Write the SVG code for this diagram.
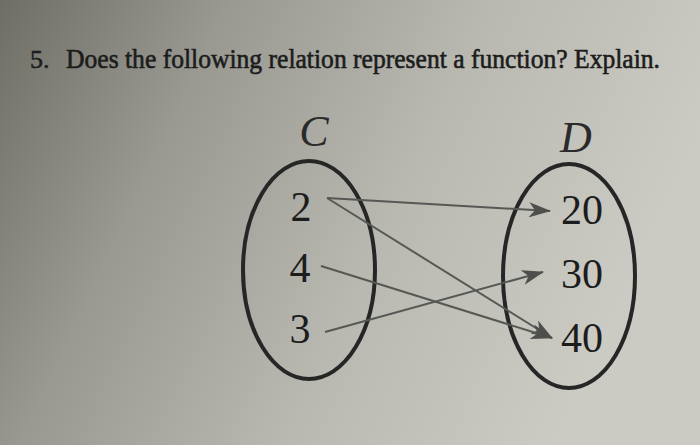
<svg xmlns="http://www.w3.org/2000/svg" width="700" height="445" viewBox="0 0 700 445">
<defs>
<linearGradient id="bg" x1="0" y1="0" x2="1" y2="0.3">
<stop offset="0" stop-color="#6e6e67"/>
<stop offset="0.3" stop-color="#999992"/>
<stop offset="0.65" stop-color="#b9b9b2"/>
<stop offset="1" stop-color="#cbcbc4"/>
</linearGradient>
<marker id="ah" viewBox="0 0 22 15" refX="21" refY="7.5" markerWidth="22" markerHeight="15" markerUnits="userSpaceOnUse" orient="auto">
<path d="M0,0 L22,7.5 L0,15 L6,7.5 Z" fill="#4e4e4c"/>
</marker>
</defs>
<style>
.t{font-family:"Liberation Serif","DejaVu Serif",serif;fill:#1c1c1c}
.num{font-size:42px;text-anchor:middle}
.set{font-size:44px;font-style:italic;text-anchor:middle;fill:#2a2a2a}
.ell{fill:none;stroke:#262626;stroke-width:4}
.c{stroke:#575755;stroke-width:2;fill:none;marker-end:url(#ah)}
</style>
<rect width="700" height="445" fill="url(#bg)"/>
<g id="title">
<text class="t" x="30" y="68" font-size="26" stroke="#1c1c1c" stroke-width="0.5">5.</text>
<text class="t" x="66" y="68" font-size="27" textLength="594" lengthAdjust="spacingAndGlyphs" stroke="#1c1c1c" stroke-width="0.6">Does the following relation represent a function? Explain.</text>
</g>
<g id="setC">
<ellipse class="ell" cx="309" cy="270" rx="66" ry="109"/>
<text class="t set" x="314" y="146">C</text>
</g>
<g id="setD">
<ellipse class="ell" cx="569" cy="276" rx="66" ry="112"/>
<text class="t set" x="576" y="152">D</text>
</g>
<g id="n2"><text class="t num" x="301" y="221">2</text></g>
<g id="n4"><text class="t num" x="300" y="282">4</text></g>
<g id="n3"><text class="t num" x="300" y="343">3</text></g>
<g id="n20"><text class="t num" x="582" y="224">20</text></g>
<g id="n30"><text class="t num" x="582" y="288">30</text></g>
<g id="n40"><text class="t num" x="582" y="352">40</text></g>
<g id="connectors">
<line class="c" x1="327" y1="198" x2="550" y2="211"/>
<line class="c" x1="327" y1="198" x2="552" y2="338"/>
<line class="c" x1="321" y1="266" x2="552" y2="338"/>
<line class="c" x1="325" y1="332" x2="543" y2="272"/>
</g>
</svg>
